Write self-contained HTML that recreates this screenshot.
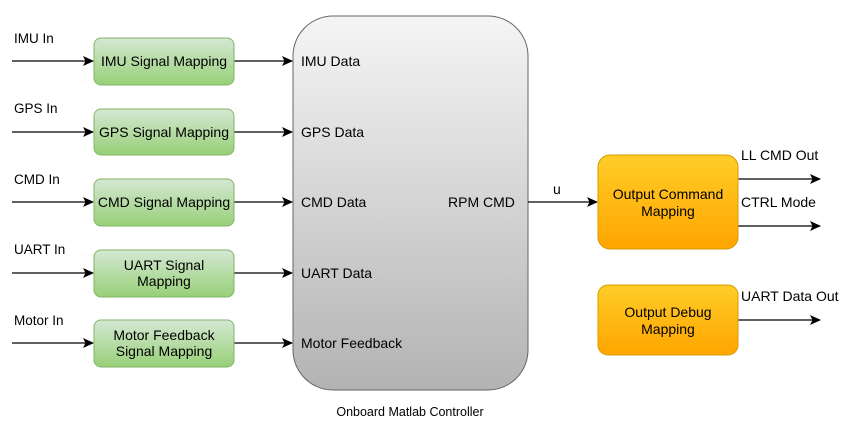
<!DOCTYPE html>
<html><head><style>body{margin:0;background:#fff}</style></head><body>
<svg width="848" height="428" xmlns="http://www.w3.org/2000/svg" font-family="Liberation Sans, sans-serif" font-size="13.5">
<defs>
<linearGradient id="g" x1="0" y1="0" x2="0" y2="1"><stop offset="0" stop-color="#d5e8d4"/><stop offset="1" stop-color="#97d077"/></linearGradient>
<linearGradient id="o" x1="0" y1="0" x2="0" y2="1"><stop offset="0" stop-color="#ffcd28"/><stop offset="1" stop-color="#ffa500"/></linearGradient>
<linearGradient id="c" x1="0" y1="0" x2="0" y2="1"><stop offset="0" stop-color="#f5f5f5"/><stop offset="1" stop-color="#b3b3b3"/></linearGradient>
<marker id="a" markerWidth="12" markerHeight="12" refX="10" refY="5" orient="auto" markerUnits="userSpaceOnUse"><path d="M0,0 L11,5 L0,10 L2.5,5z" fill="#000"/></marker>
</defs>
<rect x="293" y="16" width="235" height="374" rx="40" fill="url(#c)" stroke="#666"/>
<g stroke="#000" stroke-width="1.2" marker-end="url(#a)">
<line x1="12" y1="61" x2="93" y2="61"/><line x1="234" y1="61" x2="292" y2="61"/>
<line x1="12" y1="132" x2="93" y2="132"/><line x1="234" y1="132" x2="292" y2="132"/>
<line x1="12" y1="202" x2="93" y2="202"/><line x1="234" y1="202" x2="292" y2="202"/>
<line x1="12" y1="273" x2="93" y2="273"/><line x1="234" y1="273" x2="292" y2="273"/>
<line x1="12" y1="343" x2="93" y2="343"/><line x1="234" y1="343" x2="292" y2="343"/>
<line x1="528" y1="202" x2="597" y2="202"/>
<line x1="738" y1="179" x2="820" y2="179"/>
<line x1="738" y1="226" x2="820" y2="226"/>
<line x1="738" y1="320" x2="820" y2="320"/>
</g>
<g fill="url(#g)" stroke="#82b366">
<rect x="94" y="38" width="140" height="47" rx="7"/>
<rect x="94" y="109" width="140" height="46" rx="7"/>
<rect x="94" y="179" width="140" height="47" rx="7"/>
<rect x="94" y="250" width="140" height="47" rx="7"/>
<rect x="94" y="320" width="140" height="47" rx="7"/>
</g>
<g fill="url(#o)" stroke="#d79b00">
<rect x="598" y="155" width="140" height="94" rx="12"/>
<rect x="598" y="285" width="140" height="70" rx="10"/>
</g>
<g fill="#000">
<text x="14" y="43">IMU In</text><text x="14" y="113">GPS In</text><text x="14" y="184">CMD In</text><text x="14" y="254">UART In</text><text x="14" y="325">Motor In</text>
<g text-anchor="middle" font-size="14">
<text x="164" y="66">IMU Signal Mapping</text>
<text x="164" y="137">GPS Signal Mapping</text>
<text x="164" y="207">CMD Signal Mapping</text>
<text x="164" y="270">UART Signal</text><text x="164" y="286">Mapping</text>
<text x="164" y="340">Motor Feedback</text><text x="164" y="356">Signal Mapping</text>
<text x="668" y="199">Output Command</text><text x="668" y="216">Mapping</text>
<text x="668" y="317">Output Debug</text><text x="668" y="334">Mapping</text>
</g>
<text x="410" y="416" font-size="12.5" text-anchor="middle">Onboard Matlab Controller</text>
<g font-size="14">
<text x="301" y="66">IMU Data</text><text x="301" y="137">GPS Data</text><text x="301" y="207">CMD Data</text><text x="301" y="278">UART Data</text><text x="301" y="348">Motor Feedback</text>
<text x="448" y="207">RPM CMD</text>
<text x="553" y="194">u</text>
<text x="741" y="160">LL CMD Out</text><text x="741" y="207">CTRL Mode</text><text x="741" y="301">UART Data Out</text>
</g>
</g>
</svg>
</body></html>
